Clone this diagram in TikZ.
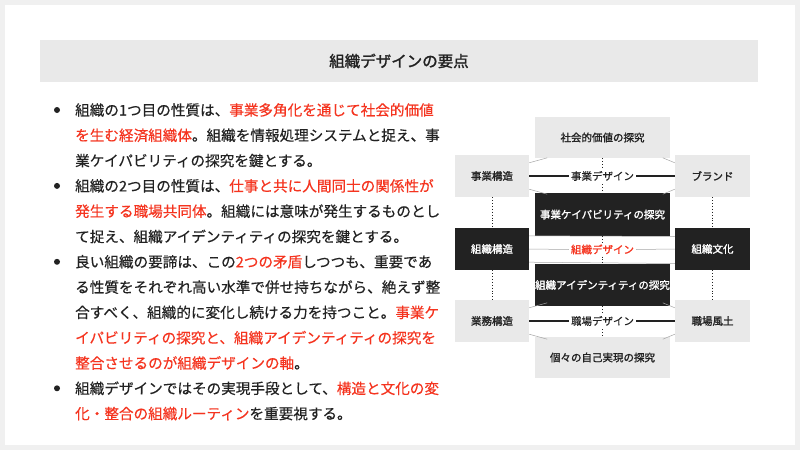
\documentclass[tikz,border=0pt]{standalone}
\usepackage{fontspec}
\setmainfont{Noto Sans CJK JP}
\newfontfamily\jpb{Noto Sans CJK JP}[FakeBold=1.5]
\newfontfamily\jpm{Noto Sans CJK JP}[FakeBold=0.4]
\definecolor{myred}{HTML}{F5341F}
\definecolor{dk}{HTML}{222222}
\definecolor{lg}{HTML}{E9E9E9}
\newcommand{\rd}[1]{\textcolor{myred}{#1}}
\begin{document}
\begin{tikzpicture}[x=1pt,y=-1pt,
  txt/.style={anchor=west,inner sep=0pt,font=\jpm\fontsize{14.6}{14.6}\selectfont,text=dk},
  bul/.style={circle,fill=dk,inner sep=0pt,minimum size=6pt},
  gbox/.style={fill=lg,inner sep=0pt,font=\jpb\fontsize{10.5}{10.5}\selectfont,text=dk},
  bbox/.style={fill=dk,inner sep=0pt,font=\jpb\fontsize{10.5}{10.5}\selectfont,text=white},
  lab/.style={fill=white,inner sep=2pt,font=\jpm\fontsize{10.5}{10.5}\selectfont,text=dk},
  conn/.style={draw=dk,line width=1.2pt},
  dots/.style={draw=dk,dotted,line width=0.9pt},
  thin/.style={draw=gray!70,line width=0.5pt}]
\fill[gray!12] (0,0) rectangle (800,450);
\fill[white] (5,5) rectangle (795,445);
\useasboundingbox (0,0) rectangle (800,450);
\node[fill=lg,minimum width=718pt,minimum height=42pt,inner sep=0pt,font=\jpb\fontsize{15.5}{15.5}\selectfont,text=dk] (title) at (399,61) {組織デザインの要点};
% text
\foreach \i in {0,3,6,11} \node[bul] (b\i) at (57,110+25.3*\i) {};
\node[txt] (l0) at (75,110) {組織の1つ目の性質は、\rd{事業多角化を通じて社会的価値}};
\node[txt] (l1) at (75,135.3) {\rd{を生む経済組織体}。組織を情報処理システムと捉え、事};
\node[txt] (l2) at (75,160.6) {業ケイパビリティの探究を鍵とする。};
\node[txt] (l3) at (75,185.9) {組織の2つ目の性質は、\rd{仕事と共に人間同士の関係性が}};
\node[txt] (l4) at (75,211.2) {\rd{発生する職場共同体}。組織には意味が発生するものとし};
\node[txt] (l5) at (75,236.5) {て捉え、組織アイデンティティの探究を鍵とする。};
\node[txt] (l6) at (75,261.8) {良い組織の要諦は、この\rd{2つの矛盾}しつつも、重要であ};
\node[txt] (l7) at (75,287.1) {る性質をそれぞれ高い水準で併せ持ちながら、絶えず整};
\node[txt] (l8) at (75,312.4) {合すべく、組織的に変化し続ける力を持つこと。\rd{事業ケ}};
\node[txt] (l9) at (75,337.7) {\rd{イパビリティの探究と、組織アイデンティティの探究を}};
\node[txt] (l10) at (75,363) {\rd{整合させるのが組織デザインの軸}。};
\node[txt] (l11) at (75,388.3) {組織デザインではその実現手段として、\rd{構造と文化の変}};
\node[txt] (l12) at (75,413.6) {\rd{化・整合の組織ルーティン}を重要視する。};
% diagram
\node[gbox,minimum width=135pt,minimum height=41pt] (soc) at (602.5,137.5) {社会的価値の探究};
\node[gbox,minimum width=74pt,minimum height=42pt] (jk) at (492,176) {事業構造};
\node[gbox,minimum width=75pt,minimum height=42pt] (br) at (712.5,176) {ブランド};
\node[bbox,minimum width=135pt,minimum height=43pt] (cap) at (602.5,214.5) {事業ケイパビリティの探究};
\node[bbox,minimum width=74pt,minimum height=42pt] (sk) at (492,249) {組織構造};
\node[bbox,minimum width=75pt,minimum height=42pt] (sb) at (712.5,249) {組織文化};
\node[bbox,minimum width=135pt,minimum height=42pt] (idn) at (602.5,285) {組織アイデンティティの探究};
\node[gbox,minimum width=74pt,minimum height=42pt] (gk) at (492,321) {業務構造};
\node[gbox,minimum width=75pt,minimum height=42pt] (sf) at (712.5,321) {職場風土};
\node[gbox,minimum width=135pt,minimum height=41pt] (ind) at (602.5,357.5) {個々の自己実現の探究};
% thin outline lines
\draw[thin] (jk.north east) ++(0,8) -- ++(18,-5);
\draw[thin] (jk.south east) ++(0,-8) -- ++(18,5);
\draw[thin] (br.north west) ++(0,8) -- ++(-12,-5);
\draw[thin] (br.south west) ++(0,-8) -- ++(-12,5);
\draw[thin] (gk.north east) ++(0,8) -- ++(18,-5);
\draw[thin] (gk.south east) ++(0,-8) -- ++(18,5);
\draw[thin] (sf.north west) ++(0,8) -- ++(-12,-5);
\draw[thin] (sf.south west) ++(0,-8) -- ++(-12,5);
\draw[thin] (sk.north east) ++(0,8) -- (sb.north west |- 236.5,236.5);
\draw[thin] (sk.south east) ++(0,-8) -- (sb.south west |- 263.5,263.5);
% dotted
\draw[dots] (soc.south) -- (cap.north);
\draw[dots] (cap.south) -- (idn.north);
\draw[dots] (idn.south) -- (ind.north);
\draw[dots] (jk.south) -- (sk.north);
\draw[dots] (sk.south) -- (gk.north);
\draw[dots] (br.south) -- (sb.north);
\draw[dots] (sb.south) -- (sf.north);
% labels
\node[lab] (d1) at (602.5,176) {事業デザイン};
\node[lab,text=myred,font=\jpb\fontsize{10.5}{10.5}\selectfont] (d2) at (602.5,249.5) {組織デザイン};
\node[lab] (d3) at (602.5,321) {職場デザイン};
\draw[conn] (jk.east) -- (d1.west); \draw[conn] (d1.east) -- (br.west);
\draw[conn] (gk.east) -- (d3.west); \draw[conn] (d3.east) -- (sf.west);
\draw[thin] (sk.east) -- (d2.west); \draw[thin] (d2.east) -- (sb.west);
\end{tikzpicture}
\end{document}
